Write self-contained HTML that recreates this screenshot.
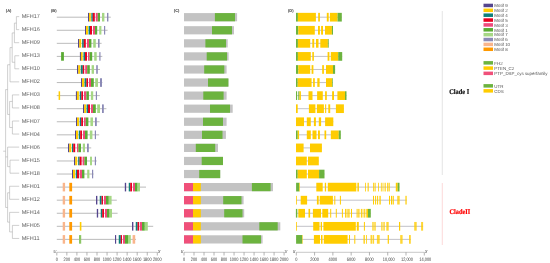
<!DOCTYPE html>
<html><head><meta charset="utf-8"><style>
html,body{margin:0;padding:0;background:#fff;width:550px;height:263px;overflow:hidden}
svg{display:block;filter:blur(0.3px);text-rendering:geometricPrecision;font-family:"Liberation Sans",sans-serif}
</style></head><body>
<svg width="550" height="263" viewBox="0 0 550 263">
<rect width="550" height="263" fill="#fff"/>
<line x1="16.4" y1="16.6" x2="19.2" y2="16.6" stroke="#a8a8a8" stroke-width="0.55"/>
<line x1="16.4" y1="29.65" x2="19.2" y2="29.65" stroke="#a8a8a8" stroke-width="0.55"/>
<line x1="16.4" y1="16.6" x2="16.4" y2="29.65" stroke="#a8a8a8" stroke-width="0.55"/>
<line x1="14.4" y1="23.12" x2="16.4" y2="23.12" stroke="#a8a8a8" stroke-width="0.55"/>
<line x1="14.4" y1="42.7" x2="19.2" y2="42.7" stroke="#a8a8a8" stroke-width="0.55"/>
<line x1="14.4" y1="23.12" x2="14.4" y2="42.7" stroke="#a8a8a8" stroke-width="0.55"/>
<line x1="14.8" y1="55.75" x2="19.2" y2="55.75" stroke="#a8a8a8" stroke-width="0.55"/>
<line x1="14.8" y1="68.8" x2="19.2" y2="68.8" stroke="#a8a8a8" stroke-width="0.55"/>
<line x1="14.8" y1="55.75" x2="14.8" y2="68.8" stroke="#a8a8a8" stroke-width="0.55"/>
<line x1="12.2" y1="32.91" x2="14.4" y2="32.91" stroke="#a8a8a8" stroke-width="0.55"/>
<line x1="12.2" y1="62.28" x2="14.8" y2="62.28" stroke="#a8a8a8" stroke-width="0.55"/>
<line x1="12.2" y1="32.91" x2="12.2" y2="62.28" stroke="#a8a8a8" stroke-width="0.55"/>
<line x1="10" y1="47.59" x2="12.2" y2="47.59" stroke="#a8a8a8" stroke-width="0.55"/>
<line x1="10" y1="81.85" x2="19.2" y2="81.85" stroke="#a8a8a8" stroke-width="0.55"/>
<line x1="10" y1="47.59" x2="10" y2="81.85" stroke="#a8a8a8" stroke-width="0.55"/>
<line x1="12.4" y1="94.9" x2="19.2" y2="94.9" stroke="#a8a8a8" stroke-width="0.55"/>
<line x1="12.4" y1="107.95" x2="19.2" y2="107.95" stroke="#a8a8a8" stroke-width="0.55"/>
<line x1="12.4" y1="94.9" x2="12.4" y2="107.95" stroke="#a8a8a8" stroke-width="0.55"/>
<line x1="12.4" y1="121" x2="19.2" y2="121" stroke="#a8a8a8" stroke-width="0.55"/>
<line x1="12.4" y1="134.05" x2="19.2" y2="134.05" stroke="#a8a8a8" stroke-width="0.55"/>
<line x1="12.4" y1="121" x2="12.4" y2="134.05" stroke="#a8a8a8" stroke-width="0.55"/>
<line x1="9.6" y1="101.43" x2="12.4" y2="101.43" stroke="#a8a8a8" stroke-width="0.55"/>
<line x1="9.6" y1="127.53" x2="12.4" y2="127.53" stroke="#a8a8a8" stroke-width="0.55"/>
<line x1="9.6" y1="101.43" x2="9.6" y2="127.53" stroke="#a8a8a8" stroke-width="0.55"/>
<line x1="7.6" y1="64.72" x2="10" y2="64.72" stroke="#a8a8a8" stroke-width="0.55"/>
<line x1="7.6" y1="114.48" x2="9.6" y2="114.48" stroke="#a8a8a8" stroke-width="0.55"/>
<line x1="7.6" y1="64.72" x2="7.6" y2="114.48" stroke="#a8a8a8" stroke-width="0.55"/>
<line x1="10" y1="160.15" x2="19.2" y2="160.15" stroke="#a8a8a8" stroke-width="0.55"/>
<line x1="10" y1="173.2" x2="19.2" y2="173.2" stroke="#a8a8a8" stroke-width="0.55"/>
<line x1="10" y1="160.15" x2="10" y2="173.2" stroke="#a8a8a8" stroke-width="0.55"/>
<line x1="7.6" y1="147.1" x2="19.2" y2="147.1" stroke="#a8a8a8" stroke-width="0.55"/>
<line x1="7.6" y1="166.68" x2="10" y2="166.68" stroke="#a8a8a8" stroke-width="0.55"/>
<line x1="7.6" y1="147.1" x2="7.6" y2="166.68" stroke="#a8a8a8" stroke-width="0.55"/>
<line x1="9.6" y1="186.25" x2="19.2" y2="186.25" stroke="#a8a8a8" stroke-width="0.55"/>
<line x1="9.6" y1="199.3" x2="19.2" y2="199.3" stroke="#a8a8a8" stroke-width="0.55"/>
<line x1="9.6" y1="186.25" x2="9.6" y2="199.3" stroke="#a8a8a8" stroke-width="0.55"/>
<line x1="12.4" y1="225.4" x2="19.2" y2="225.4" stroke="#a8a8a8" stroke-width="0.55"/>
<line x1="12.4" y1="238.45" x2="19.2" y2="238.45" stroke="#a8a8a8" stroke-width="0.55"/>
<line x1="12.4" y1="225.4" x2="12.4" y2="238.45" stroke="#a8a8a8" stroke-width="0.55"/>
<line x1="9.6" y1="212.35" x2="19.2" y2="212.35" stroke="#a8a8a8" stroke-width="0.55"/>
<line x1="9.6" y1="231.93" x2="12.4" y2="231.93" stroke="#a8a8a8" stroke-width="0.55"/>
<line x1="9.6" y1="212.35" x2="9.6" y2="231.93" stroke="#a8a8a8" stroke-width="0.55"/>
<line x1="7.6" y1="192.78" x2="9.6" y2="192.78" stroke="#a8a8a8" stroke-width="0.55"/>
<line x1="7.6" y1="222.14" x2="9.6" y2="222.14" stroke="#a8a8a8" stroke-width="0.55"/>
<line x1="7.6" y1="192.78" x2="7.6" y2="222.14" stroke="#a8a8a8" stroke-width="0.55"/>
<line x1="5.6" y1="89.6" x2="7.6" y2="89.6" stroke="#a8a8a8" stroke-width="0.55"/>
<line x1="5.6" y1="156.89" x2="7.6" y2="156.89" stroke="#a8a8a8" stroke-width="0.55"/>
<line x1="5.6" y1="207.46" x2="7.6" y2="207.46" stroke="#a8a8a8" stroke-width="0.55"/>
<line x1="5.6" y1="89.6" x2="5.6" y2="207.46" stroke="#a8a8a8" stroke-width="0.55"/>
<line x1="3.2" y1="151.2" x2="5.6" y2="151.2" stroke="#a8a8a8" stroke-width="0.55"/>
<text x="21.7" y="18.1" font-size="5.55" fill="#626262" text-anchor="start" font-weight="normal" font-family="Liberation Sans">MFH17</text>
<text x="21.7" y="31.15" font-size="5.55" fill="#626262" text-anchor="start" font-weight="normal" font-family="Liberation Sans">MFH16</text>
<text x="21.7" y="44.2" font-size="5.55" fill="#626262" text-anchor="start" font-weight="normal" font-family="Liberation Sans">MFH09</text>
<text x="21.7" y="57.25" font-size="5.55" fill="#626262" text-anchor="start" font-weight="normal" font-family="Liberation Sans">MFH13</text>
<text x="21.7" y="70.3" font-size="5.55" fill="#626262" text-anchor="start" font-weight="normal" font-family="Liberation Sans">MFH10</text>
<text x="21.7" y="83.35" font-size="5.55" fill="#626262" text-anchor="start" font-weight="normal" font-family="Liberation Sans">MFH02</text>
<text x="21.7" y="96.4" font-size="5.55" fill="#626262" text-anchor="start" font-weight="normal" font-family="Liberation Sans">MFH03</text>
<text x="21.7" y="109.45" font-size="5.55" fill="#626262" text-anchor="start" font-weight="normal" font-family="Liberation Sans">MFH08</text>
<text x="21.7" y="122.5" font-size="5.55" fill="#626262" text-anchor="start" font-weight="normal" font-family="Liberation Sans">MFH07</text>
<text x="21.7" y="135.55" font-size="5.55" fill="#626262" text-anchor="start" font-weight="normal" font-family="Liberation Sans">MFH04</text>
<text x="21.7" y="148.6" font-size="5.55" fill="#626262" text-anchor="start" font-weight="normal" font-family="Liberation Sans">MFH06</text>
<text x="21.7" y="161.65" font-size="5.55" fill="#626262" text-anchor="start" font-weight="normal" font-family="Liberation Sans">MFH15</text>
<text x="21.7" y="174.7" font-size="5.55" fill="#626262" text-anchor="start" font-weight="normal" font-family="Liberation Sans">MFH18</text>
<text x="21.7" y="187.75" font-size="5.55" fill="#626262" text-anchor="start" font-weight="normal" font-family="Liberation Sans">MFH01</text>
<text x="21.7" y="200.8" font-size="5.55" fill="#626262" text-anchor="start" font-weight="normal" font-family="Liberation Sans">MFH12</text>
<text x="21.7" y="213.85" font-size="5.55" fill="#626262" text-anchor="start" font-weight="normal" font-family="Liberation Sans">MFH14</text>
<text x="21.7" y="226.9" font-size="5.55" fill="#626262" text-anchor="start" font-weight="normal" font-family="Liberation Sans">MFH05</text>
<text x="21.7" y="239.95" font-size="5.55" fill="#626262" text-anchor="start" font-weight="normal" font-family="Liberation Sans">MFH11</text>
<text x="5.8" y="11.9" font-size="4" fill="#333" text-anchor="start" font-weight="bold" font-family="Liberation Sans">(A)</text>
<text x="51" y="11.9" font-size="4" fill="#333" text-anchor="start" font-weight="bold" font-family="Liberation Sans">(B)</text>
<text x="173.8" y="11.9" font-size="4" fill="#333" text-anchor="start" font-weight="bold" font-family="Liberation Sans">(C)</text>
<text x="288" y="11.9" font-size="4" fill="#333" text-anchor="start" font-weight="bold" font-family="Liberation Sans">(D)</text>
<line x1="56.8" y1="17.2" x2="110.8" y2="17.2" stroke="#aaaaaa" stroke-width="0.8"/>
<rect x="88" y="12.9" width="1.15" height="8.6" fill="#54458e"/>
<rect x="89" y="12.9" width="1.8" height="8.6" fill="#ffcc00"/>
<rect x="91.35" y="12.9" width="1.45" height="8.6" fill="#0d8079"/>
<rect x="92.8" y="12.9" width="2" height="8.6" fill="#e8001e"/>
<rect x="95.8" y="12.9" width="2" height="8.6" fill="#ee4a7c"/>
<rect x="97.8" y="12.9" width="2.2" height="8.6" fill="#5aab33"/>
<rect x="102" y="12.9" width="2.4" height="8.6" fill="#a6d785"/>
<rect x="107" y="12.9" width="1.4" height="8.6" fill="#8b8ab6"/>
<line x1="56.8" y1="30.27" x2="107.6" y2="30.27" stroke="#aaaaaa" stroke-width="0.8"/>
<rect x="85" y="25.97" width="1.15" height="8.6" fill="#54458e"/>
<rect x="86" y="25.97" width="2" height="8.6" fill="#ffcc00"/>
<rect x="88.55" y="25.97" width="1.45" height="8.6" fill="#0d8079"/>
<rect x="90" y="25.97" width="2" height="8.6" fill="#e8001e"/>
<rect x="93" y="25.97" width="2" height="8.6" fill="#ee4a7c"/>
<rect x="95" y="25.97" width="2.2" height="8.6" fill="#5aab33"/>
<rect x="99.2" y="25.97" width="2.2" height="8.6" fill="#a6d785"/>
<rect x="104" y="25.97" width="1.2" height="8.6" fill="#8b8ab6"/>
<line x1="56.8" y1="43.34" x2="101.6" y2="43.34" stroke="#aaaaaa" stroke-width="0.8"/>
<rect x="78" y="39.04" width="1.35" height="8.6" fill="#54458e"/>
<rect x="79.2" y="39.04" width="2" height="8.6" fill="#ffcc00"/>
<rect x="82.15" y="39.04" width="1.65" height="8.6" fill="#0d8079"/>
<rect x="83.8" y="39.04" width="2" height="8.6" fill="#e8001e"/>
<rect x="87" y="39.04" width="2" height="8.6" fill="#ee4a7c"/>
<rect x="89" y="39.04" width="2.4" height="8.6" fill="#5aab33"/>
<rect x="93.2" y="39.04" width="2.6" height="8.6" fill="#a6d785"/>
<rect x="98" y="39.04" width="1.6" height="8.6" fill="#8b8ab6"/>
<line x1="56.8" y1="56.41" x2="102.3" y2="56.41" stroke="#aaaaaa" stroke-width="0.8"/>
<rect x="61.1" y="52.11" width="2.8" height="8.6" fill="#5aab33"/>
<rect x="79.9" y="52.11" width="1.15" height="8.6" fill="#54458e"/>
<rect x="80.9" y="52.11" width="1.8" height="8.6" fill="#ffcc00"/>
<rect x="83.45" y="52.11" width="1.55" height="8.6" fill="#0d8079"/>
<rect x="85" y="52.11" width="2" height="8.6" fill="#e8001e"/>
<rect x="88" y="52.11" width="1.6" height="8.6" fill="#ee4a7c"/>
<rect x="89.6" y="52.11" width="2.6" height="8.6" fill="#5aab33"/>
<rect x="94.2" y="52.11" width="2.5" height="8.6" fill="#a6d785"/>
<rect x="99.3" y="52.11" width="1.2" height="8.6" fill="#8b8ab6"/>
<line x1="56.8" y1="69.48" x2="100" y2="69.48" stroke="#aaaaaa" stroke-width="0.8"/>
<rect x="77" y="65.18" width="1.35" height="8.6" fill="#54458e"/>
<rect x="78.2" y="65.18" width="2" height="8.6" fill="#ffcc00"/>
<rect x="80.75" y="65.18" width="2.05" height="8.6" fill="#0d8079"/>
<rect x="82.8" y="65.18" width="1.4" height="8.6" fill="#e8001e"/>
<rect x="85.2" y="65.18" width="2" height="8.6" fill="#ee4a7c"/>
<rect x="87.2" y="65.18" width="2.6" height="8.6" fill="#5aab33"/>
<rect x="91.6" y="65.18" width="2.4" height="8.6" fill="#a6d785"/>
<rect x="96.2" y="65.18" width="1.6" height="8.6" fill="#8b8ab6"/>
<line x1="56.8" y1="82.55" x2="102.4" y2="82.55" stroke="#aaaaaa" stroke-width="0.8"/>
<rect x="81" y="78.25" width="1.15" height="8.6" fill="#54458e"/>
<rect x="82" y="78.25" width="2.2" height="8.6" fill="#ffcc00"/>
<rect x="84.55" y="78.25" width="1.85" height="8.6" fill="#0d8079"/>
<rect x="86.4" y="78.25" width="1.6" height="8.6" fill="#e8001e"/>
<rect x="89" y="78.25" width="2" height="8.6" fill="#ee4a7c"/>
<rect x="91" y="78.25" width="2.8" height="8.6" fill="#5aab33"/>
<rect x="95.2" y="78.25" width="2.8" height="8.6" fill="#a6d785"/>
<rect x="100" y="78.25" width="2" height="8.6" fill="#8b8ab6"/>
<line x1="56.8" y1="95.62" x2="99.8" y2="95.62" stroke="#aaaaaa" stroke-width="0.8"/>
<rect x="58.6" y="91.32" width="1.5" height="8.6" fill="#ffcc00"/>
<rect x="75.9" y="91.32" width="1.15" height="8.6" fill="#54458e"/>
<rect x="76.9" y="91.32" width="2" height="8.6" fill="#ffcc00"/>
<rect x="79.75" y="91.32" width="1.55" height="8.6" fill="#0d8079"/>
<rect x="81.3" y="91.32" width="1.7" height="8.6" fill="#e8001e"/>
<rect x="84" y="91.32" width="2.4" height="8.6" fill="#ee4a7c"/>
<rect x="86.4" y="91.32" width="2.5" height="8.6" fill="#5aab33"/>
<rect x="90.9" y="91.32" width="2.3" height="8.6" fill="#a6d785"/>
<rect x="95.8" y="91.32" width="1.2" height="8.6" fill="#8b8ab6"/>
<line x1="56.8" y1="108.69" x2="106.4" y2="108.69" stroke="#aaaaaa" stroke-width="0.8"/>
<rect x="83" y="104.39" width="1.35" height="8.6" fill="#54458e"/>
<rect x="84.2" y="104.39" width="1.8" height="8.6" fill="#ffcc00"/>
<rect x="86.55" y="104.39" width="1.45" height="8.6" fill="#0d8079"/>
<rect x="88" y="104.39" width="2" height="8.6" fill="#e8001e"/>
<rect x="91" y="104.39" width="2" height="8.6" fill="#ee4a7c"/>
<rect x="93" y="104.39" width="2.8" height="8.6" fill="#5aab33"/>
<rect x="97.2" y="104.39" width="2.8" height="8.6" fill="#a6d785"/>
<rect x="102" y="104.39" width="1.8" height="8.6" fill="#8b8ab6"/>
<line x1="56.8" y1="121.76" x2="99.6" y2="121.76" stroke="#aaaaaa" stroke-width="0.8"/>
<rect x="76" y="117.46" width="1.15" height="8.6" fill="#54458e"/>
<rect x="77" y="117.46" width="2" height="8.6" fill="#ffcc00"/>
<rect x="79.75" y="117.46" width="1.45" height="8.6" fill="#0d8079"/>
<rect x="81.2" y="117.46" width="1.8" height="8.6" fill="#e8001e"/>
<rect x="84" y="117.46" width="1.8" height="8.6" fill="#ee4a7c"/>
<rect x="85.8" y="117.46" width="2.6" height="8.6" fill="#5aab33"/>
<rect x="90.4" y="117.46" width="2.6" height="8.6" fill="#a6d785"/>
<rect x="95" y="117.46" width="1.8" height="8.6" fill="#8b8ab6"/>
<line x1="56.8" y1="134.83" x2="99.2" y2="134.83" stroke="#aaaaaa" stroke-width="0.8"/>
<rect x="75" y="130.53" width="1.15" height="8.6" fill="#54458e"/>
<rect x="76" y="130.53" width="2" height="8.6" fill="#ffcc00"/>
<rect x="78.75" y="130.53" width="1.45" height="8.6" fill="#0d8079"/>
<rect x="80.2" y="130.53" width="1.8" height="8.6" fill="#e8001e"/>
<rect x="83" y="130.53" width="2" height="8.6" fill="#ee4a7c"/>
<rect x="85" y="130.53" width="2.6" height="8.6" fill="#5aab33"/>
<rect x="89.8" y="130.53" width="2.6" height="8.6" fill="#a6d785"/>
<rect x="94.8" y="130.53" width="1.2" height="8.6" fill="#8b8ab6"/>
<line x1="56.8" y1="147.9" x2="91.2" y2="147.9" stroke="#aaaaaa" stroke-width="0.8"/>
<rect x="68" y="143.6" width="1.35" height="8.6" fill="#54458e"/>
<rect x="69.2" y="143.6" width="2" height="8.6" fill="#ffcc00"/>
<rect x="71.95" y="143.6" width="1.25" height="8.6" fill="#0d8079"/>
<rect x="73.2" y="143.6" width="2" height="8.6" fill="#e8001e"/>
<rect x="77" y="143.6" width="1.4" height="8.6" fill="#ee4a7c"/>
<rect x="78.4" y="143.6" width="2.6" height="8.6" fill="#5aab33"/>
<rect x="82.8" y="143.6" width="2.2" height="8.6" fill="#a6d785"/>
<rect x="87" y="143.6" width="1.8" height="8.6" fill="#8b8ab6"/>
<line x1="56.8" y1="160.97" x2="96.8" y2="160.97" stroke="#aaaaaa" stroke-width="0.8"/>
<rect x="74" y="156.67" width="1.35" height="8.6" fill="#54458e"/>
<rect x="75.2" y="156.67" width="2" height="8.6" fill="#ffcc00"/>
<rect x="78.15" y="156.67" width="1.45" height="8.6" fill="#0d8079"/>
<rect x="79.6" y="156.67" width="2" height="8.6" fill="#e8001e"/>
<rect x="82.6" y="156.67" width="1.8" height="8.6" fill="#ee4a7c"/>
<rect x="84.4" y="156.67" width="2.6" height="8.6" fill="#5aab33"/>
<rect x="90" y="156.67" width="2" height="8.6" fill="#a6d785"/>
<rect x="94.8" y="156.67" width="1.2" height="8.6" fill="#8b8ab6"/>
<line x1="56.8" y1="174.04" x2="93.6" y2="174.04" stroke="#aaaaaa" stroke-width="0.8"/>
<rect x="72" y="169.74" width="1.15" height="8.6" fill="#54458e"/>
<rect x="73" y="169.74" width="2" height="8.6" fill="#ffcc00"/>
<rect x="75.75" y="169.74" width="1.25" height="8.6" fill="#0d8079"/>
<rect x="77" y="169.74" width="2.2" height="8.6" fill="#e8001e"/>
<rect x="80" y="169.74" width="2" height="8.6" fill="#ee4a7c"/>
<rect x="82" y="169.74" width="2.4" height="8.6" fill="#5aab33"/>
<rect x="87.2" y="169.74" width="2.2" height="8.6" fill="#a6d785"/>
<rect x="92" y="169.74" width="1.2" height="8.6" fill="#8b8ab6"/>
<line x1="56.8" y1="187.11" x2="146" y2="187.11" stroke="#aaaaaa" stroke-width="0.8"/>
<rect x="62.7" y="182.81" width="2.4" height="8.6" fill="#f9b58c"/>
<rect x="69.3" y="182.81" width="2.8" height="8.6" fill="#ff9900"/>
<rect x="124.8" y="182.81" width="1.35" height="8.6" fill="#54458e"/>
<rect x="128.75" y="182.81" width="1.45" height="8.6" fill="#0d8079"/>
<rect x="130.2" y="182.81" width="1.8" height="8.6" fill="#e8001e"/>
<rect x="133" y="182.81" width="2" height="8.6" fill="#ee4a7c"/>
<rect x="135" y="182.81" width="2.6" height="8.6" fill="#5aab33"/>
<rect x="137.6" y="182.81" width="2.4" height="8.6" fill="#a6d785"/>
<line x1="56.8" y1="200.18" x2="116.8" y2="200.18" stroke="#aaaaaa" stroke-width="0.8"/>
<rect x="62.7" y="195.88" width="2.4" height="8.6" fill="#f9b58c"/>
<rect x="69.3" y="195.88" width="2.8" height="8.6" fill="#ff9900"/>
<rect x="96" y="195.88" width="1.35" height="8.6" fill="#54458e"/>
<rect x="99.75" y="195.88" width="1.85" height="8.6" fill="#0d8079"/>
<rect x="101.6" y="195.88" width="1.4" height="8.6" fill="#e8001e"/>
<rect x="104" y="195.88" width="2" height="8.6" fill="#ee4a7c"/>
<rect x="106" y="195.88" width="2.8" height="8.6" fill="#5aab33"/>
<rect x="108.8" y="195.88" width="2.8" height="8.6" fill="#a6d785"/>
<line x1="56.8" y1="213.25" x2="117.6" y2="213.25" stroke="#aaaaaa" stroke-width="0.8"/>
<rect x="62.7" y="208.95" width="2.4" height="8.6" fill="#f9b58c"/>
<rect x="69.3" y="208.95" width="2.8" height="8.6" fill="#ff9900"/>
<rect x="96.8" y="208.95" width="1.35" height="8.6" fill="#54458e"/>
<rect x="100.75" y="208.95" width="1.45" height="8.6" fill="#0d8079"/>
<rect x="102.2" y="208.95" width="1.8" height="8.6" fill="#e8001e"/>
<rect x="105" y="208.95" width="2" height="8.6" fill="#ee4a7c"/>
<rect x="107" y="208.95" width="2.6" height="8.6" fill="#5aab33"/>
<rect x="109.6" y="208.95" width="2.4" height="8.6" fill="#a6d785"/>
<line x1="56.8" y1="226.32" x2="153.2" y2="226.32" stroke="#aaaaaa" stroke-width="0.8"/>
<rect x="62.7" y="222.02" width="2.4" height="8.6" fill="#f9b58c"/>
<rect x="69.3" y="222.02" width="2.8" height="8.6" fill="#ff9900"/>
<rect x="79.8" y="222.02" width="1.6" height="8.6" fill="#ffcc00"/>
<rect x="132" y="222.02" width="1.35" height="8.6" fill="#54458e"/>
<rect x="135.75" y="222.02" width="1.85" height="8.6" fill="#0d8079"/>
<rect x="137.6" y="222.02" width="1.6" height="8.6" fill="#e8001e"/>
<rect x="140" y="222.02" width="2" height="8.6" fill="#ee4a7c"/>
<rect x="142" y="222.02" width="2.8" height="8.6" fill="#5aab33"/>
<rect x="144.8" y="222.02" width="3" height="8.6" fill="#a6d785"/>
<line x1="56.8" y1="239.39" x2="136" y2="239.39" stroke="#aaaaaa" stroke-width="0.8"/>
<rect x="62.7" y="235.09" width="2.4" height="8.6" fill="#f9b58c"/>
<rect x="69.3" y="235.09" width="2.8" height="8.6" fill="#ff9900"/>
<rect x="79" y="235.09" width="2.2" height="8.6" fill="#8cc665"/>
<rect x="115" y="235.09" width="1.15" height="8.6" fill="#54458e"/>
<rect x="118.75" y="235.09" width="2.05" height="8.6" fill="#0d8079"/>
<rect x="120.8" y="235.09" width="1.2" height="8.6" fill="#e8001e"/>
<rect x="123" y="235.09" width="2" height="8.6" fill="#ee4a7c"/>
<rect x="125" y="235.09" width="3" height="8.6" fill="#5aab33"/>
<rect x="128" y="235.09" width="2.8" height="8.6" fill="#a6d785"/>
<rect x="132.6" y="235.09" width="2.6" height="8.6" fill="#f9b58c"/>
<rect x="184" y="13.1" width="53.1" height="8.2" fill="#c3c3c3"/>
<rect x="214.9" y="13.1" width="20.1" height="8.2" fill="#6cb33f"/>
<rect x="184" y="26.17" width="50" height="8.2" fill="#c3c3c3"/>
<rect x="212" y="26.17" width="20" height="8.2" fill="#6cb33f"/>
<rect x="184" y="39.24" width="43.7" height="8.2" fill="#c3c3c3"/>
<rect x="205.4" y="39.24" width="20.6" height="8.2" fill="#6cb33f"/>
<rect x="184" y="52.31" width="44.6" height="8.2" fill="#c3c3c3"/>
<rect x="206.7" y="52.31" width="20.3" height="8.2" fill="#6cb33f"/>
<rect x="184" y="65.38" width="42.6" height="8.2" fill="#c3c3c3"/>
<rect x="204.2" y="65.38" width="20.1" height="8.2" fill="#6cb33f"/>
<rect x="184" y="78.45" width="44.4" height="8.2" fill="#c3c3c3"/>
<rect x="208" y="78.45" width="20.4" height="8.2" fill="#6cb33f"/>
<rect x="184" y="91.52" width="42.6" height="8.2" fill="#c3c3c3"/>
<rect x="203.3" y="91.52" width="20.3" height="8.2" fill="#6cb33f"/>
<rect x="184" y="104.59" width="48.7" height="8.2" fill="#c3c3c3"/>
<rect x="210" y="104.59" width="20" height="8.2" fill="#6cb33f"/>
<rect x="184" y="117.66" width="42.6" height="8.2" fill="#c3c3c3"/>
<rect x="203" y="117.66" width="20" height="8.2" fill="#6cb33f"/>
<rect x="184" y="130.73" width="41.9" height="8.2" fill="#c3c3c3"/>
<rect x="202" y="130.73" width="20.5" height="8.2" fill="#6cb33f"/>
<rect x="184" y="143.8" width="34" height="8.2" fill="#c3c3c3"/>
<rect x="195.8" y="143.8" width="19.4" height="8.2" fill="#6cb33f"/>
<rect x="184" y="156.87" width="39" height="8.2" fill="#c3c3c3"/>
<rect x="201.7" y="156.87" width="21.3" height="8.2" fill="#6cb33f"/>
<rect x="184" y="169.94" width="36.2" height="8.2" fill="#c3c3c3"/>
<rect x="199.2" y="169.94" width="21" height="8.2" fill="#6cb33f"/>
<rect x="184" y="183.01" width="89" height="8.2" fill="#c3c3c3"/>
<rect x="251.9" y="183.01" width="18.7" height="8.2" fill="#6cb33f"/>
<rect x="184" y="183.01" width="9" height="8.2" fill="#f0507a"/>
<rect x="193" y="183.01" width="7.8" height="8.2" fill="#ffcc00"/>
<rect x="184" y="196.08" width="59.6" height="8.2" fill="#c3c3c3"/>
<rect x="223.2" y="196.08" width="18.3" height="8.2" fill="#6cb33f"/>
<rect x="184" y="196.08" width="9" height="8.2" fill="#f0507a"/>
<rect x="193" y="196.08" width="7.8" height="8.2" fill="#ffcc00"/>
<rect x="184" y="209.15" width="60.2" height="8.2" fill="#c3c3c3"/>
<rect x="224.2" y="209.15" width="18.3" height="8.2" fill="#6cb33f"/>
<rect x="184" y="209.15" width="9" height="8.2" fill="#f0507a"/>
<rect x="193" y="209.15" width="7.8" height="8.2" fill="#ffcc00"/>
<rect x="184" y="222.22" width="96.3" height="8.2" fill="#c3c3c3"/>
<rect x="259.3" y="222.22" width="18.4" height="8.2" fill="#6cb33f"/>
<rect x="184" y="222.22" width="9" height="8.2" fill="#f0507a"/>
<rect x="193" y="222.22" width="7.8" height="8.2" fill="#ffcc00"/>
<rect x="184" y="235.29" width="78.6" height="8.2" fill="#c3c3c3"/>
<rect x="242.5" y="235.29" width="18.5" height="8.2" fill="#6cb33f"/>
<rect x="184" y="235.29" width="9" height="8.2" fill="#f0507a"/>
<rect x="193" y="235.29" width="7.8" height="8.2" fill="#ffcc00"/>
<line x1="296" y1="17.2" x2="341.8" y2="17.2" stroke="#b2b2ba" stroke-width="0.8"/>
<rect x="296" y="12.85" width="1.9" height="8.7" fill="#6cb33f"/>
<rect x="297.9" y="12.85" width="18" height="8.7" fill="#ffcc00"/>
<rect x="318.2" y="12.85" width="1.7" height="8.7" fill="#ffcc00"/>
<rect x="326.8" y="12.85" width="1.9" height="8.7" fill="#ffcc00"/>
<rect x="329.9" y="12.85" width="7.7" height="8.7" fill="#ffcc00"/>
<rect x="337.6" y="12.85" width="4.2" height="8.7" fill="#6cb33f"/>
<line x1="296" y1="30.27" x2="333" y2="30.27" stroke="#b2b2ba" stroke-width="0.8"/>
<rect x="296" y="25.92" width="2.3" height="8.7" fill="#6cb33f"/>
<rect x="298.3" y="25.92" width="16.5" height="8.7" fill="#ffcc00"/>
<rect x="318" y="25.92" width="1.9" height="8.7" fill="#ffcc00"/>
<rect x="321.1" y="25.92" width="1.9" height="8.7" fill="#ffcc00"/>
<rect x="325" y="25.92" width="6.9" height="8.7" fill="#ffcc00"/>
<rect x="331.9" y="25.92" width="1.1" height="8.7" fill="#6cb33f"/>
<line x1="296" y1="43.34" x2="328.7" y2="43.34" stroke="#b2b2ba" stroke-width="0.8"/>
<rect x="296" y="38.99" width="1.9" height="8.7" fill="#6cb33f"/>
<rect x="297.9" y="38.99" width="12.3" height="8.7" fill="#ffcc00"/>
<rect x="312.3" y="38.99" width="1.9" height="8.7" fill="#ffcc00"/>
<rect x="316" y="38.99" width="2.5" height="8.7" fill="#ffcc00"/>
<rect x="320.3" y="38.99" width="7.6" height="8.7" fill="#ffcc00"/>
<rect x="327.9" y="38.99" width="0.8" height="8.7" fill="#6cb33f"/>
<line x1="296" y1="56.41" x2="342.2" y2="56.41" stroke="#b2b2ba" stroke-width="0.8"/>
<rect x="296" y="52.06" width="1.9" height="8.7" fill="#6cb33f"/>
<rect x="297.9" y="52.06" width="12.9" height="8.7" fill="#ffcc00"/>
<rect x="312.3" y="52.06" width="1.6" height="8.7" fill="#ffcc00"/>
<rect x="327.6" y="52.06" width="1.8" height="8.7" fill="#ffcc00"/>
<rect x="330.8" y="52.06" width="7.4" height="8.7" fill="#ffcc00"/>
<rect x="338.2" y="52.06" width="4" height="8.7" fill="#6cb33f"/>
<line x1="296" y1="69.48" x2="335.1" y2="69.48" stroke="#b2b2ba" stroke-width="0.8"/>
<rect x="296" y="65.13" width="2.3" height="8.7" fill="#6cb33f"/>
<rect x="298.3" y="65.13" width="11.9" height="8.7" fill="#ffcc00"/>
<rect x="311.6" y="65.13" width="1.8" height="8.7" fill="#ffcc00"/>
<rect x="322.2" y="65.13" width="1.7" height="8.7" fill="#ffcc00"/>
<rect x="326" y="65.13" width="7" height="8.7" fill="#ffcc00"/>
<rect x="333" y="65.13" width="2.1" height="8.7" fill="#6cb33f"/>
<line x1="296" y1="82.55" x2="332.8" y2="82.55" stroke="#b2b2ba" stroke-width="0.8"/>
<rect x="296" y="78.2" width="1.7" height="8.7" fill="#6cb33f"/>
<rect x="297.7" y="78.2" width="13.9" height="8.7" fill="#ffcc00"/>
<rect x="313.1" y="78.2" width="1.7" height="8.7" fill="#ffcc00"/>
<rect x="317.3" y="78.2" width="2.3" height="8.7" fill="#ffcc00"/>
<rect x="326" y="78.2" width="6.1" height="8.7" fill="#ffcc00"/>
<rect x="332.1" y="78.2" width="0.7" height="8.7" fill="#6cb33f"/>
<line x1="296" y1="95.62" x2="346.5" y2="95.62" stroke="#b2b2ba" stroke-width="0.8"/>
<rect x="296" y="91.27" width="1.1" height="8.7" fill="#6cb33f"/>
<rect x="298.3" y="91.27" width="1.1" height="8.7" fill="#6cb33f"/>
<rect x="299.4" y="91.27" width="1.5" height="8.7" fill="#ffcc00"/>
<rect x="308.5" y="91.27" width="4" height="8.7" fill="#ffcc00"/>
<rect x="317.1" y="91.27" width="5.7" height="8.7" fill="#ffcc00"/>
<rect x="325.1" y="91.27" width="1.7" height="8.7" fill="#ffcc00"/>
<rect x="332.1" y="91.27" width="1.9" height="8.7" fill="#ffcc00"/>
<rect x="337.4" y="91.27" width="7.6" height="8.7" fill="#ffcc00"/>
<rect x="345" y="91.27" width="1.5" height="8.7" fill="#6cb33f"/>
<line x1="296" y1="108.69" x2="343.9" y2="108.69" stroke="#b2b2ba" stroke-width="0.8"/>
<rect x="296" y="104.34" width="1.7" height="8.7" fill="#ffcc00"/>
<rect x="308.9" y="104.34" width="6.5" height="8.7" fill="#ffcc00"/>
<rect x="316.9" y="104.34" width="7" height="8.7" fill="#ffcc00"/>
<rect x="325.1" y="104.34" width="1.1" height="8.7" fill="#ffcc00"/>
<rect x="328.3" y="104.34" width="1.9" height="8.7" fill="#ffcc00"/>
<rect x="335.9" y="104.34" width="8" height="8.7" fill="#ffcc00"/>
<line x1="296" y1="121.76" x2="333.3" y2="121.76" stroke="#b2b2ba" stroke-width="0.8"/>
<rect x="296" y="117.41" width="8" height="8.7" fill="#ffcc00"/>
<rect x="306.8" y="117.41" width="4" height="8.7" fill="#ffcc00"/>
<rect x="313.9" y="117.41" width="2" height="8.7" fill="#ffcc00"/>
<rect x="318.8" y="117.41" width="2.3" height="8.7" fill="#ffcc00"/>
<rect x="325.1" y="117.41" width="8.2" height="8.7" fill="#ffcc00"/>
<line x1="296" y1="134.83" x2="340.8" y2="134.83" stroke="#b2b2ba" stroke-width="0.8"/>
<rect x="296" y="130.48" width="1.7" height="8.7" fill="#6cb33f"/>
<rect x="297.7" y="130.48" width="1.4" height="8.7" fill="#ffcc00"/>
<rect x="306.8" y="130.48" width="4" height="8.7" fill="#ffcc00"/>
<rect x="312.5" y="130.48" width="4" height="8.7" fill="#ffcc00"/>
<rect x="318" y="130.48" width="1.9" height="8.7" fill="#ffcc00"/>
<rect x="324.5" y="130.48" width="1.7" height="8.7" fill="#ffcc00"/>
<rect x="330.8" y="130.48" width="8" height="8.7" fill="#ffcc00"/>
<rect x="338.8" y="130.48" width="2" height="8.7" fill="#6cb33f"/>
<line x1="296" y1="147.9" x2="321.9" y2="147.9" stroke="#b2b2ba" stroke-width="0.8"/>
<rect x="296" y="143.55" width="7.6" height="8.7" fill="#ffcc00"/>
<rect x="310" y="143.55" width="11.9" height="8.7" fill="#ffcc00"/>
<line x1="296" y1="160.97" x2="318.8" y2="160.97" stroke="#b2b2ba" stroke-width="0.8"/>
<rect x="296" y="156.62" width="10.8" height="8.7" fill="#ffcc00"/>
<rect x="308" y="156.62" width="10.8" height="8.7" fill="#ffcc00"/>
<line x1="296" y1="174.04" x2="324.5" y2="174.04" stroke="#b2b2ba" stroke-width="0.8"/>
<rect x="296" y="169.69" width="1.7" height="8.7" fill="#6cb33f"/>
<rect x="297.7" y="169.69" width="9.1" height="8.7" fill="#ffcc00"/>
<rect x="308" y="169.69" width="11.1" height="8.7" fill="#ffcc00"/>
<rect x="319.1" y="169.69" width="5.4" height="8.7" fill="#6cb33f"/>
<line x1="296.1" y1="187.11" x2="399.5" y2="187.11" stroke="#b2b2ba" stroke-width="0.8"/>
<rect x="296.1" y="182.76" width="3.2" height="8.7" fill="#6cb33f"/>
<rect x="299.3" y="182.76" width="0.6" height="8.7" fill="#ffcc00"/>
<rect x="316.3" y="182.76" width="6.4" height="8.7" fill="#ffcc00"/>
<rect x="324.8" y="182.76" width="1.3" height="8.7" fill="#ffcc00"/>
<rect x="327.8" y="182.76" width="28.5" height="8.7" fill="#ffcc00"/>
<rect x="357.4" y="182.76" width="1.5" height="8.7" fill="#ffcc00"/>
<rect x="365.1" y="182.76" width="0.8" height="8.7" fill="#ffcc00"/>
<rect x="367.6" y="182.76" width="1.1" height="8.7" fill="#ffcc00"/>
<rect x="373.2" y="182.76" width="1.1" height="8.7" fill="#ffcc00"/>
<rect x="374.8" y="182.76" width="0.8" height="8.7" fill="#ffcc00"/>
<rect x="378.1" y="182.76" width="0.8" height="8.7" fill="#ffcc00"/>
<rect x="380.9" y="182.76" width="0.8" height="8.7" fill="#ffcc00"/>
<rect x="382.6" y="182.76" width="0.8" height="8.7" fill="#ffcc00"/>
<rect x="384.6" y="182.76" width="1.1" height="8.7" fill="#ffcc00"/>
<rect x="387" y="182.76" width="0.8" height="8.7" fill="#ffcc00"/>
<rect x="388.5" y="182.76" width="1.2" height="8.7" fill="#ffcc00"/>
<rect x="395.8" y="182.76" width="1.9" height="8.7" fill="#ffcc00"/>
<rect x="397.7" y="182.76" width="1.8" height="8.7" fill="#6cb33f"/>
<line x1="296.1" y1="200.18" x2="406.8" y2="200.18" stroke="#b2b2ba" stroke-width="0.8"/>
<rect x="296.1" y="195.83" width="0.8" height="8.7" fill="#ffcc00"/>
<rect x="300.7" y="195.83" width="6.4" height="8.7" fill="#ffcc00"/>
<rect x="316.9" y="195.83" width="1.8" height="8.7" fill="#ffcc00"/>
<rect x="319.7" y="195.83" width="13.2" height="8.7" fill="#ffcc00"/>
<rect x="334.3" y="195.83" width="1" height="8.7" fill="#ffcc00"/>
<rect x="339.9" y="195.83" width="1" height="8.7" fill="#ffcc00"/>
<rect x="373" y="195.83" width="1" height="8.7" fill="#ffcc00"/>
<rect x="375.1" y="195.83" width="1" height="8.7" fill="#ffcc00"/>
<rect x="377.1" y="195.83" width="1" height="8.7" fill="#ffcc00"/>
<rect x="379.3" y="195.83" width="1.6" height="8.7" fill="#ffcc00" fill-opacity="0.8"/>
<rect x="389" y="195.83" width="1" height="8.7" fill="#ffcc00"/>
<rect x="391" y="195.83" width="1" height="8.7" fill="#ffcc00"/>
<rect x="392.6" y="195.83" width="1.2" height="8.7" fill="#ffcc00"/>
<rect x="397.2" y="195.83" width="2.5" height="8.7" fill="#ffcc00" fill-opacity="0.8"/>
<rect x="405.3" y="195.83" width="1.5" height="8.7" fill="#ffcc00" fill-opacity="0.8"/>
<line x1="295.9" y1="213.25" x2="370.8" y2="213.25" stroke="#b2b2ba" stroke-width="0.8"/>
<rect x="295.9" y="208.9" width="1.4" height="8.7" fill="#6cb33f"/>
<rect x="298.3" y="208.9" width="6.7" height="8.7" fill="#ffcc00"/>
<rect x="308.5" y="208.9" width="1.6" height="8.7" fill="#ffcc00"/>
<rect x="312.9" y="208.9" width="8.1" height="8.7" fill="#ffcc00"/>
<rect x="322.3" y="208.9" width="5.9" height="8.7" fill="#ffcc00"/>
<rect x="330.2" y="208.9" width="1" height="8.7" fill="#ffcc00"/>
<rect x="335.8" y="208.9" width="1" height="8.7" fill="#ffcc00"/>
<rect x="341.9" y="208.9" width="1" height="8.7" fill="#ffcc00"/>
<rect x="345.1" y="208.9" width="1" height="8.7" fill="#ffcc00"/>
<rect x="346.6" y="208.9" width="1" height="8.7" fill="#ffcc00"/>
<rect x="348.1" y="208.9" width="1.6" height="8.7" fill="#ffcc00" fill-opacity="0.8"/>
<rect x="351" y="208.9" width="1" height="8.7" fill="#ffcc00"/>
<rect x="356.5" y="208.9" width="1.3" height="8.7" fill="#ffcc00" fill-opacity="0.8"/>
<rect x="358.1" y="208.9" width="1.5" height="8.7" fill="#ffcc00" fill-opacity="0.8"/>
<rect x="360.9" y="208.9" width="1" height="8.7" fill="#ffcc00"/>
<rect x="362.6" y="208.9" width="0.8" height="8.7" fill="#ffcc00"/>
<rect x="364.2" y="208.9" width="1.1" height="8.7" fill="#ffcc00"/>
<rect x="366.3" y="208.9" width="1.7" height="8.7" fill="#ffcc00"/>
<rect x="368" y="208.9" width="2.8" height="8.7" fill="#6cb33f"/>
<line x1="296.1" y1="226.32" x2="423.1" y2="226.32" stroke="#b2b2ba" stroke-width="0.8"/>
<rect x="296.1" y="221.97" width="0.8" height="8.7" fill="#ffcc00"/>
<rect x="313.2" y="221.97" width="6.3" height="8.7" fill="#ffcc00"/>
<rect x="320.7" y="221.97" width="1.3" height="8.7" fill="#ffcc00"/>
<rect x="323.4" y="221.97" width="32.4" height="8.7" fill="#ffcc00"/>
<rect x="356.8" y="221.97" width="2" height="8.7" fill="#ffcc00"/>
<rect x="363.9" y="221.97" width="1" height="8.7" fill="#ffcc00"/>
<rect x="372.4" y="221.97" width="1.2" height="8.7" fill="#ffcc00"/>
<rect x="374.4" y="221.97" width="1.2" height="8.7" fill="#ffcc00"/>
<rect x="381.2" y="221.97" width="1.4" height="8.7" fill="#ffcc00" fill-opacity="0.8"/>
<rect x="383.3" y="221.97" width="1.5" height="8.7" fill="#ffcc00" fill-opacity="0.8"/>
<rect x="386.3" y="221.97" width="2.4" height="8.7" fill="#ffcc00" fill-opacity="0.8"/>
<rect x="399" y="221.97" width="1.2" height="8.7" fill="#ffcc00"/>
<rect x="414.2" y="221.97" width="2.5" height="8.7" fill="#ffcc00" fill-opacity="0.8"/>
<rect x="421.1" y="221.97" width="2" height="8.7" fill="#ffcc00" fill-opacity="0.8"/>
<line x1="296.1" y1="239.39" x2="410.8" y2="239.39" stroke="#b2b2ba" stroke-width="0.8"/>
<rect x="296.1" y="235.04" width="6.1" height="8.7" fill="#6cb33f"/>
<rect x="302.2" y="235.04" width="0.5" height="8.7" fill="#ffcc00"/>
<rect x="313.9" y="235.04" width="6.1" height="8.7" fill="#ffcc00"/>
<rect x="321" y="235.04" width="1.5" height="8.7" fill="#ffcc00"/>
<rect x="323.8" y="235.04" width="23.8" height="8.7" fill="#ffcc00"/>
<rect x="349" y="235.04" width="1" height="8.7" fill="#ffcc00"/>
<rect x="354.3" y="235.04" width="1" height="8.7" fill="#ffcc00"/>
<rect x="363.4" y="235.04" width="1.6" height="8.7" fill="#ffcc00" fill-opacity="0.8"/>
<rect x="366" y="235.04" width="0.8" height="8.7" fill="#ffcc00"/>
<rect x="370.5" y="235.04" width="1.6" height="8.7" fill="#ffcc00" fill-opacity="0.8"/>
<rect x="372.6" y="235.04" width="1.5" height="8.7" fill="#ffcc00" fill-opacity="0.8"/>
<rect x="376.9" y="235.04" width="2.8" height="8.7" fill="#ffcc00" fill-opacity="0.8"/>
<rect x="387.7" y="235.04" width="1.2" height="8.7" fill="#ffcc00"/>
<rect x="400.2" y="235.04" width="2.4" height="8.7" fill="#ffcc00" fill-opacity="0.8"/>
<rect x="409" y="235.04" width="1.8" height="8.7" fill="#ffcc00" fill-opacity="0.8"/>
<line x1="56.8" y1="252.3" x2="157.3" y2="252.3" stroke="#9a9a9a" stroke-width="0.55"/>
<line x1="56.8" y1="252.3" x2="56.8" y2="255.5" stroke="#808080" stroke-width="0.6"/>
<text x="56.8" y="261.1" font-size="5" fill="#333" text-anchor="middle" font-weight="normal" font-family="Liberation Sans" textLength="2.17" lengthAdjust="spacingAndGlyphs">0</text>
<line x1="66.85" y1="252.3" x2="66.85" y2="255.5" stroke="#808080" stroke-width="0.6"/>
<text x="66.85" y="261.1" font-size="5" fill="#333" text-anchor="middle" font-weight="normal" font-family="Liberation Sans" textLength="6.51" lengthAdjust="spacingAndGlyphs">200</text>
<line x1="76.9" y1="252.3" x2="76.9" y2="255.5" stroke="#808080" stroke-width="0.6"/>
<text x="76.9" y="261.1" font-size="5" fill="#333" text-anchor="middle" font-weight="normal" font-family="Liberation Sans" textLength="6.51" lengthAdjust="spacingAndGlyphs">400</text>
<line x1="86.95" y1="252.3" x2="86.95" y2="255.5" stroke="#808080" stroke-width="0.6"/>
<text x="86.95" y="261.1" font-size="5" fill="#333" text-anchor="middle" font-weight="normal" font-family="Liberation Sans" textLength="6.51" lengthAdjust="spacingAndGlyphs">600</text>
<line x1="97" y1="252.3" x2="97" y2="255.5" stroke="#808080" stroke-width="0.6"/>
<text x="97" y="261.1" font-size="5" fill="#333" text-anchor="middle" font-weight="normal" font-family="Liberation Sans" textLength="6.51" lengthAdjust="spacingAndGlyphs">800</text>
<line x1="107.05" y1="252.3" x2="107.05" y2="255.5" stroke="#808080" stroke-width="0.6"/>
<text x="107.05" y="261.1" font-size="5" fill="#333" text-anchor="middle" font-weight="normal" font-family="Liberation Sans" textLength="8.67" lengthAdjust="spacingAndGlyphs">1000</text>
<line x1="117.1" y1="252.3" x2="117.1" y2="255.5" stroke="#808080" stroke-width="0.6"/>
<text x="117.1" y="261.1" font-size="5" fill="#333" text-anchor="middle" font-weight="normal" font-family="Liberation Sans" textLength="8.67" lengthAdjust="spacingAndGlyphs">1200</text>
<line x1="127.15" y1="252.3" x2="127.15" y2="255.5" stroke="#808080" stroke-width="0.6"/>
<text x="127.15" y="261.1" font-size="5" fill="#333" text-anchor="middle" font-weight="normal" font-family="Liberation Sans" textLength="8.67" lengthAdjust="spacingAndGlyphs">1400</text>
<line x1="137.2" y1="252.3" x2="137.2" y2="255.5" stroke="#808080" stroke-width="0.6"/>
<text x="137.2" y="261.1" font-size="5" fill="#333" text-anchor="middle" font-weight="normal" font-family="Liberation Sans" textLength="8.67" lengthAdjust="spacingAndGlyphs">1600</text>
<line x1="147.25" y1="252.3" x2="147.25" y2="255.5" stroke="#808080" stroke-width="0.6"/>
<text x="147.25" y="261.1" font-size="5" fill="#333" text-anchor="middle" font-weight="normal" font-family="Liberation Sans" textLength="8.67" lengthAdjust="spacingAndGlyphs">1800</text>
<line x1="157.3" y1="252.3" x2="157.3" y2="255.5" stroke="#808080" stroke-width="0.6"/>
<text x="157.3" y="261.1" font-size="5" fill="#333" text-anchor="middle" font-weight="normal" font-family="Liberation Sans" textLength="8.67" lengthAdjust="spacingAndGlyphs">2000</text>
<text x="56.5" y="253.3" font-size="4" fill="#333" text-anchor="end" font-weight="normal" font-family="Liberation Sans">5'</text>
<text x="157.8" y="253.3" font-size="4" fill="#333" text-anchor="start" font-weight="normal" font-family="Liberation Sans">3'</text>
<line x1="184" y1="252.3" x2="284.1" y2="252.3" stroke="#9a9a9a" stroke-width="0.55"/>
<line x1="184" y1="252.3" x2="184" y2="255.5" stroke="#808080" stroke-width="0.6"/>
<text x="184" y="261.1" font-size="5" fill="#333" text-anchor="middle" font-weight="normal" font-family="Liberation Sans" textLength="2.17" lengthAdjust="spacingAndGlyphs">0</text>
<line x1="194.01" y1="252.3" x2="194.01" y2="255.5" stroke="#808080" stroke-width="0.6"/>
<text x="194.01" y="261.1" font-size="5" fill="#333" text-anchor="middle" font-weight="normal" font-family="Liberation Sans" textLength="6.51" lengthAdjust="spacingAndGlyphs">200</text>
<line x1="204.02" y1="252.3" x2="204.02" y2="255.5" stroke="#808080" stroke-width="0.6"/>
<text x="204.02" y="261.1" font-size="5" fill="#333" text-anchor="middle" font-weight="normal" font-family="Liberation Sans" textLength="6.51" lengthAdjust="spacingAndGlyphs">400</text>
<line x1="214.03" y1="252.3" x2="214.03" y2="255.5" stroke="#808080" stroke-width="0.6"/>
<text x="214.03" y="261.1" font-size="5" fill="#333" text-anchor="middle" font-weight="normal" font-family="Liberation Sans" textLength="6.51" lengthAdjust="spacingAndGlyphs">600</text>
<line x1="224.04" y1="252.3" x2="224.04" y2="255.5" stroke="#808080" stroke-width="0.6"/>
<text x="224.04" y="261.1" font-size="5" fill="#333" text-anchor="middle" font-weight="normal" font-family="Liberation Sans" textLength="6.51" lengthAdjust="spacingAndGlyphs">800</text>
<line x1="234.05" y1="252.3" x2="234.05" y2="255.5" stroke="#808080" stroke-width="0.6"/>
<text x="234.05" y="261.1" font-size="5" fill="#333" text-anchor="middle" font-weight="normal" font-family="Liberation Sans" textLength="8.67" lengthAdjust="spacingAndGlyphs">1000</text>
<line x1="244.06" y1="252.3" x2="244.06" y2="255.5" stroke="#808080" stroke-width="0.6"/>
<text x="244.06" y="261.1" font-size="5" fill="#333" text-anchor="middle" font-weight="normal" font-family="Liberation Sans" textLength="8.67" lengthAdjust="spacingAndGlyphs">1200</text>
<line x1="254.07" y1="252.3" x2="254.07" y2="255.5" stroke="#808080" stroke-width="0.6"/>
<text x="254.07" y="261.1" font-size="5" fill="#333" text-anchor="middle" font-weight="normal" font-family="Liberation Sans" textLength="8.67" lengthAdjust="spacingAndGlyphs">1400</text>
<line x1="264.08" y1="252.3" x2="264.08" y2="255.5" stroke="#808080" stroke-width="0.6"/>
<text x="264.08" y="261.1" font-size="5" fill="#333" text-anchor="middle" font-weight="normal" font-family="Liberation Sans" textLength="8.67" lengthAdjust="spacingAndGlyphs">1600</text>
<line x1="274.09" y1="252.3" x2="274.09" y2="255.5" stroke="#808080" stroke-width="0.6"/>
<text x="274.09" y="261.1" font-size="5" fill="#333" text-anchor="middle" font-weight="normal" font-family="Liberation Sans" textLength="8.67" lengthAdjust="spacingAndGlyphs">1800</text>
<line x1="284.1" y1="252.3" x2="284.1" y2="255.5" stroke="#808080" stroke-width="0.6"/>
<text x="284.1" y="261.1" font-size="5" fill="#333" text-anchor="middle" font-weight="normal" font-family="Liberation Sans" textLength="8.67" lengthAdjust="spacingAndGlyphs">2000</text>
<text x="183.7" y="253.3" font-size="4" fill="#333" text-anchor="end" font-weight="normal" font-family="Liberation Sans">5'</text>
<text x="284.6" y="253.3" font-size="4" fill="#333" text-anchor="start" font-weight="normal" font-family="Liberation Sans">3'</text>
<line x1="296.3" y1="252.3" x2="424.3" y2="252.3" stroke="#9a9a9a" stroke-width="0.55"/>
<line x1="296.3" y1="252.3" x2="296.3" y2="255.5" stroke="#808080" stroke-width="0.6"/>
<text x="296.3" y="261.1" font-size="5" fill="#333" text-anchor="middle" font-weight="normal" font-family="Liberation Sans" textLength="2.17" lengthAdjust="spacingAndGlyphs">0</text>
<line x1="314.59" y1="252.3" x2="314.59" y2="255.5" stroke="#808080" stroke-width="0.6"/>
<text x="314.59" y="261.1" font-size="5" fill="#333" text-anchor="middle" font-weight="normal" font-family="Liberation Sans" textLength="8.67" lengthAdjust="spacingAndGlyphs">2000</text>
<line x1="332.87" y1="252.3" x2="332.87" y2="255.5" stroke="#808080" stroke-width="0.6"/>
<text x="332.87" y="261.1" font-size="5" fill="#333" text-anchor="middle" font-weight="normal" font-family="Liberation Sans" textLength="8.67" lengthAdjust="spacingAndGlyphs">4000</text>
<line x1="351.16" y1="252.3" x2="351.16" y2="255.5" stroke="#808080" stroke-width="0.6"/>
<text x="351.16" y="261.1" font-size="5" fill="#333" text-anchor="middle" font-weight="normal" font-family="Liberation Sans" textLength="8.67" lengthAdjust="spacingAndGlyphs">6000</text>
<line x1="369.44" y1="252.3" x2="369.44" y2="255.5" stroke="#808080" stroke-width="0.6"/>
<text x="369.44" y="261.1" font-size="5" fill="#333" text-anchor="middle" font-weight="normal" font-family="Liberation Sans" textLength="8.67" lengthAdjust="spacingAndGlyphs">8000</text>
<line x1="387.73" y1="252.3" x2="387.73" y2="255.5" stroke="#808080" stroke-width="0.6"/>
<text x="388.73" y="261.1" font-size="5" fill="#333" text-anchor="middle" font-weight="normal" font-family="Liberation Sans" textLength="11.93" lengthAdjust="spacingAndGlyphs">10,000</text>
<line x1="406.01" y1="252.3" x2="406.01" y2="255.5" stroke="#808080" stroke-width="0.6"/>
<text x="407.01" y="261.1" font-size="5" fill="#333" text-anchor="middle" font-weight="normal" font-family="Liberation Sans" textLength="11.93" lengthAdjust="spacingAndGlyphs">12,000</text>
<line x1="424.3" y1="252.3" x2="424.3" y2="255.5" stroke="#808080" stroke-width="0.6"/>
<text x="425.3" y="261.1" font-size="5" fill="#333" text-anchor="middle" font-weight="normal" font-family="Liberation Sans" textLength="11.93" lengthAdjust="spacingAndGlyphs">14,000</text>
<text x="296" y="253.3" font-size="4" fill="#333" text-anchor="end" font-weight="normal" font-family="Liberation Sans">5'</text>
<text x="424.8" y="253.3" font-size="4" fill="#333" text-anchor="start" font-weight="normal" font-family="Liberation Sans">3'</text>
<rect x="483.5" y="3.7" width="9.5" height="3.5" fill="#54458e"/>
<text x="494.3" y="7.2" font-size="4.45" fill="#555" text-anchor="start" font-weight="normal" font-family="Liberation Sans">Motif 9</text>
<rect x="483.5" y="8.57" width="9.5" height="3.5" fill="#ffcc00"/>
<text x="494.3" y="12.07" font-size="4.45" fill="#555" text-anchor="start" font-weight="normal" font-family="Liberation Sans">Motif 2</text>
<rect x="483.5" y="13.44" width="9.5" height="3.5" fill="#0d8079"/>
<text x="494.3" y="16.94" font-size="4.45" fill="#555" text-anchor="start" font-weight="normal" font-family="Liberation Sans">Motif 4</text>
<rect x="483.5" y="18.31" width="9.5" height="3.5" fill="#e8001e"/>
<text x="494.3" y="21.81" font-size="4.45" fill="#555" text-anchor="start" font-weight="normal" font-family="Liberation Sans">Motif 5</text>
<rect x="483.5" y="23.18" width="9.5" height="3.5" fill="#ee4a7c"/>
<text x="494.3" y="26.68" font-size="4.45" fill="#555" text-anchor="start" font-weight="normal" font-family="Liberation Sans">Motif 3</text>
<rect x="483.5" y="28.05" width="9.5" height="3.5" fill="#5aab33"/>
<text x="494.3" y="31.55" font-size="4.45" fill="#555" text-anchor="start" font-weight="normal" font-family="Liberation Sans">Motif 1</text>
<rect x="483.5" y="32.92" width="9.5" height="3.5" fill="#a6d785"/>
<text x="494.3" y="36.42" font-size="4.45" fill="#555" text-anchor="start" font-weight="normal" font-family="Liberation Sans">Motif 7</text>
<rect x="483.5" y="37.79" width="9.5" height="3.5" fill="#8b8ab6"/>
<text x="494.3" y="41.29" font-size="4.45" fill="#555" text-anchor="start" font-weight="normal" font-family="Liberation Sans">Motif 6</text>
<rect x="483.5" y="42.66" width="9.5" height="3.5" fill="#f9b58c"/>
<text x="494.3" y="46.16" font-size="4.45" fill="#555" text-anchor="start" font-weight="normal" font-family="Liberation Sans">Motif 10</text>
<rect x="483.5" y="47.53" width="9.5" height="3.5" fill="#ff9900"/>
<text x="494.3" y="51.03" font-size="4.45" fill="#555" text-anchor="start" font-weight="normal" font-family="Liberation Sans">Motif 8</text>
<rect x="483.5" y="61.1" width="9.5" height="3.5" fill="#6cb33f"/>
<text x="494.3" y="64.6" font-size="4.45" fill="#555" text-anchor="start" font-weight="normal" font-family="Liberation Sans">FH2</text>
<rect x="483.5" y="66.35" width="9.5" height="3.5" fill="#ffcc00"/>
<text x="494.3" y="69.85" font-size="4.45" fill="#555" text-anchor="start" font-weight="normal" font-family="Liberation Sans">PTEN_C2</text>
<rect x="483.5" y="71.6" width="9.5" height="3.5" fill="#f0507a"/>
<text x="494.3" y="75.1" font-size="4.45" fill="#555" text-anchor="start" font-weight="normal" font-family="Liberation Sans">PTP_DSP_cys superfamily</text>
<rect x="483.5" y="84.1" width="9.5" height="3.5" fill="#6cb33f"/>
<text x="494.3" y="87.6" font-size="4.45" fill="#555" text-anchor="start" font-weight="normal" font-family="Liberation Sans">UTR</text>
<rect x="483.5" y="89.1" width="9.5" height="3.5" fill="#ffcc00"/>
<text x="494.3" y="92.6" font-size="4.45" fill="#555" text-anchor="start" font-weight="normal" font-family="Liberation Sans">CDS</text>
<line x1="442.3" y1="11" x2="442.3" y2="175" stroke="#dedede" stroke-width="0.8"/>
<line x1="442.3" y1="183" x2="442.3" y2="245" stroke="#fbd0d0" stroke-width="0.8"/>
<text x="449.2" y="93.9" font-size="7.2" fill="#111" text-anchor="start" font-weight="bold" font-family="Liberation Serif" textLength="20" lengthAdjust="spacingAndGlyphs" stroke="#111" stroke-width="0.2">Clade I</text>
<text x="449.4" y="213.5" font-size="7.2" fill="#ff0000" text-anchor="start" font-weight="bold" font-family="Liberation Serif" textLength="20.8" lengthAdjust="spacingAndGlyphs" stroke="#ff0000" stroke-width="0.2">CladeII</text>
</svg>
</body></html>
